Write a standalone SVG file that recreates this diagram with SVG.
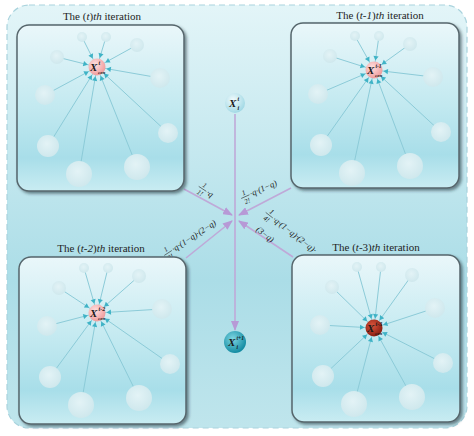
<svg xmlns="http://www.w3.org/2000/svg" width="474" height="436" viewBox="0 0 474 436">
<defs>
<style>
.ttl{font-family:"Liberation Serif",serif;font-size:11px;fill:#1e1e1e;text-anchor:middle}
.it{font-style:italic}
.ln{stroke:#8ccbd8;stroke-width:1;marker-end:url(#ah)}
.sat{fill:url(#satG)}
.box{fill:url(#boxG);stroke:#56666c;stroke-width:1.5;filter:url(#sh)}
.xl{font-family:"Liberation Serif",serif;font-weight:bold;font-style:italic;fill:#1a1a1a}
.fr{font-family:"Liberation Serif",serif;font-size:7px;font-style:italic;fill:#222;text-anchor:middle}
.lb{font-family:"Liberation Serif",serif;font-size:8.6px;font-style:italic;fill:#222}
.bar{stroke:#333;stroke-width:0.6}
.arr{stroke:#bfa9d8;stroke-width:1.6;fill:none;marker-end:url(#am)}
</style>
<linearGradient id="bgG" x1="0" y1="0" x2="0" y2="1">
<stop offset="0" stop-color="#e3f5f8"/><stop offset="0.65" stop-color="#abdde7"/><stop offset="1" stop-color="#bfe5ec"/>
</linearGradient>
<linearGradient id="boxG" x1="0" y1="0" x2="0" y2="1">
<stop offset="0" stop-color="#eaf7fa"/><stop offset="0.5" stop-color="#c2e9f0"/><stop offset="0.8" stop-color="#a8dee9"/><stop offset="1" stop-color="#c9ecf2"/>
</linearGradient>
<radialGradient id="satG" cx="0.45" cy="0.4" r="0.6">
<stop offset="0" stop-color="#e3f3f6"/><stop offset="1" stop-color="#cfe8ed"/>
</radialGradient>
<radialGradient id="pinkG" cx="0.4" cy="0.35" r="0.65">
<stop offset="0" stop-color="#ffe0e0"/><stop offset="1" stop-color="#ef9c9c"/>
</radialGradient>
<radialGradient id="redG" cx="0.4" cy="0.35" r="0.65">
<stop offset="0" stop-color="#d8543c"/><stop offset="1" stop-color="#8a1e12"/>
</radialGradient>
<radialGradient id="topG" cx="0.4" cy="0.35" r="0.65">
<stop offset="0" stop-color="#f2fbfd"/><stop offset="1" stop-color="#a2d9e5"/>
</radialGradient>
<radialGradient id="botG" cx="0.4" cy="0.35" r="0.65">
<stop offset="0" stop-color="#7fd6e2"/><stop offset="1" stop-color="#138ba2"/>
</radialGradient>
<filter id="sh" x="-10%" y="-10%" width="125%" height="125%">
<feGaussianBlur in="SourceAlpha" stdDeviation="1.8"/><feOffset dx="1.5" dy="2" result="b"/>
<feFlood flood-color="#1e2e36" flood-opacity="0.55"/><feComposite in2="b" operator="in"/>
<feMerge><feMergeNode/><feMergeNode in="SourceGraphic"/></feMerge>
</filter>
<marker id="ah" viewBox="-15 -3 15 6" refX="0" refY="0" markerWidth="15" markerHeight="6" markerUnits="userSpaceOnUse" orient="auto">
<path d="M-14,-2.6 L-9.5,0 L-14,2.6 z" fill="#3fb3c6"/>
</marker>
<marker id="am" viewBox="0 0 10 8" refX="9" refY="4" markerWidth="10" markerHeight="8" markerUnits="userSpaceOnUse" orient="auto">
<path d="M0,0 L10,4 L0,8 z" fill="#b799d6"/>
</marker>
</defs>
<rect width="474" height="436" fill="#ffffff"/>
<rect x="7" y="5" width="460" height="423" rx="22" fill="url(#bgG)" stroke="#a9d3dd" stroke-width="1.2" stroke-dasharray="6 4"/>

<g id="connectors">
<line class="arr" x1="235" y1="114" x2="235" y2="330"/>
<line class="arr" x1="184" y1="189" x2="232" y2="215"/>
<line class="arr" x1="291" y1="188" x2="239" y2="215"/>
<line class="arr" x1="186" y1="258" x2="232" y2="221"/>
<line class="arr" x1="293" y1="257" x2="239" y2="221"/>
<g transform="translate(199,186) rotate(33)">
<text class="fr" x="4.5" y="-1.5">1</text><line class="bar" x1="0" y1="0.5" x2="9" y2="0.5"/><text class="fr" x="4.5" y="7.5">1!</text>
<text class="lb" x="10" y="3">·q</text>
</g>
<g transform="translate(241,198) rotate(-24)">
<text class="fr" x="4.5" y="-1.5">1</text><line class="bar" x1="0" y1="0.5" x2="9" y2="0.5"/><text class="fr" x="4.5" y="7.5">2!</text>
<text class="lb" x="10" y="3">·q·(1−q)</text>
</g>
<g transform="translate(164,255) rotate(-33)">
<text class="fr" x="4.5" y="-1.5">1</text><line class="bar" x1="0" y1="0.5" x2="9" y2="0.5"/><text class="fr" x="4.5" y="7.5">3!</text>
<text class="lb" x="10" y="3">·q·(1−q)·(2−q)</text>
</g>
<g transform="translate(266,212) rotate(38)">
<text class="fr" x="4.5" y="-1.5">1</text><line class="bar" x1="0" y1="0.5" x2="9" y2="0.5"/><text class="fr" x="4.5" y="7.5">4!</text>
<text class="lb" x="10" y="3">·q·(1−q)·(2−q)·</text>
<text class="lb" x="3" y="21">(3−q)</text>
</g>
</g>

<g id="node-xi-t">
<circle cx="235" cy="103" r="10" fill="url(#topG)"/>
<text class="xl" x="229" y="107" font-size="11">X</text>
<text class="xl" x="237.5" y="101" font-size="6" font-weight="normal">t</text>
<text class="xl" x="237.5" y="110" font-size="6" font-weight="normal">i</text>
</g>
<g id="node-xi-t1">
<circle cx="235" cy="342" r="11" fill="url(#botG)"/>
<text class="xl" x="228" y="346" font-size="11" fill="#0e3c48">X</text>
<text class="xl" x="236.5" y="340" font-size="5.5" font-weight="normal">t+1</text>
<text class="xl" x="236.5" y="349" font-size="5.5" font-weight="normal">i</text>
</g>

<g id="box-t">
<text class="ttl" x="102" y="20">The (<tspan class="it">t</tspan>)<tspan class="it">th</tspan> iteration</text>
<rect class="box" x="17" y="25" width="167" height="166" rx="12"/>
<line class="ln" x1="82" y1="37" x2="97" y2="67"/><line class="ln" x1="106" y1="37" x2="97" y2="67"/>
<line class="ln" x1="137" y1="45" x2="97" y2="67"/><line class="ln" x1="57" y1="57" x2="97" y2="67"/>
<line class="ln" x1="160" y1="78" x2="97" y2="67"/><line class="ln" x1="45" y1="95" x2="97" y2="67"/>
<line class="ln" x1="168" y1="133" x2="97" y2="67"/><line class="ln" x1="48" y1="146" x2="97" y2="67"/>
<line class="ln" x1="79" y1="174" x2="97" y2="67"/><line class="ln" x1="137" y1="167" x2="97" y2="67"/>
<circle class="sat" cx="82" cy="37" r="5"/><circle class="sat" cx="106" cy="37" r="5"/>
<circle class="sat" cx="137" cy="45" r="7"/><circle class="sat" cx="57" cy="57" r="7"/>
<circle class="sat" cx="160" cy="78" r="10"/><circle class="sat" cx="45" cy="95" r="10"/>
<circle class="sat" cx="168" cy="133" r="10"/><circle class="sat" cx="48" cy="146" r="11"/>
<circle class="sat" cx="79" cy="174" r="13"/><circle class="sat" cx="137" cy="167" r="13"/>
<circle cx="97" cy="67" r="8.5" fill="url(#pinkG)"/>
<text class="xl" x="90" y="71" font-size="11">X</text>
<text class="xl" x="98.5" y="65" font-size="6" font-weight="normal">t</text>
<text class="xl" x="98" y="74" font-size="5" font-weight="normal">cen</text>
</g>

<g id="box-t1">
<text class="ttl" x="380" y="19">The (<tspan class="it">t-1</tspan>)<tspan class="it">th</tspan> iteration</text>
<rect class="box" x="291" y="23" width="168" height="165" rx="12"/>
<line class="ln" x1="355" y1="36" x2="374" y2="70"/><line class="ln" x1="379" y1="36" x2="374" y2="70"/>
<line class="ln" x1="410" y1="44" x2="374" y2="70"/><line class="ln" x1="330" y1="56" x2="374" y2="70"/>
<line class="ln" x1="433" y1="77" x2="374" y2="70"/><line class="ln" x1="318" y1="94" x2="374" y2="70"/>
<line class="ln" x1="441" y1="132" x2="374" y2="70"/><line class="ln" x1="321" y1="145" x2="374" y2="70"/>
<line class="ln" x1="352" y1="173" x2="374" y2="70"/><line class="ln" x1="410" y1="166" x2="374" y2="70"/>
<circle class="sat" cx="355" cy="36" r="5"/><circle class="sat" cx="379" cy="36" r="5"/>
<circle class="sat" cx="410" cy="44" r="7"/><circle class="sat" cx="330" cy="56" r="7"/>
<circle class="sat" cx="433" cy="77" r="10"/><circle class="sat" cx="318" cy="94" r="10"/>
<circle class="sat" cx="441" cy="132" r="10"/><circle class="sat" cx="321" cy="145" r="11"/>
<circle class="sat" cx="352" cy="173" r="13"/><circle class="sat" cx="410" cy="166" r="13"/>
<circle cx="374" cy="70" r="8.5" fill="url(#pinkG)"/>
<text class="xl" x="367" y="74" font-size="11">X</text>
<text class="xl" x="375.5" y="68" font-size="5.5" font-weight="normal">t-1</text>
<text class="xl" x="375" y="77" font-size="5" font-weight="normal">cen</text>
</g>

<g id="box-t2">
<text class="ttl" x="101" y="252">The (<tspan class="it">t-2</tspan>)<tspan class="it">th</tspan> iteration</text>
<rect class="box" x="19" y="257" width="167" height="167" rx="12"/>
<line class="ln" x1="84" y1="268" x2="97" y2="313"/><line class="ln" x1="108" y1="268" x2="97" y2="313"/>
<line class="ln" x1="139" y1="276" x2="97" y2="313"/><line class="ln" x1="59" y1="288" x2="97" y2="313"/>
<line class="ln" x1="162" y1="309" x2="97" y2="313"/><line class="ln" x1="47" y1="326" x2="97" y2="313"/>
<line class="ln" x1="170" y1="364" x2="97" y2="313"/><line class="ln" x1="50" y1="377" x2="97" y2="313"/>
<line class="ln" x1="81" y1="405" x2="97" y2="313"/><line class="ln" x1="139" y1="398" x2="97" y2="313"/>
<circle class="sat" cx="84" cy="268" r="5"/><circle class="sat" cx="108" cy="268" r="5"/>
<circle class="sat" cx="139" cy="276" r="7"/><circle class="sat" cx="59" cy="288" r="7"/>
<circle class="sat" cx="162" cy="309" r="10"/><circle class="sat" cx="47" cy="326" r="10"/>
<circle class="sat" cx="170" cy="364" r="10"/><circle class="sat" cx="50" cy="377" r="11"/>
<circle class="sat" cx="81" cy="405" r="13"/><circle class="sat" cx="139" cy="398" r="13"/>
<circle cx="97" cy="313" r="8.5" fill="url(#pinkG)"/>
<text class="xl" x="90" y="317" font-size="11">X</text>
<text class="xl" x="98.5" y="311" font-size="6" font-weight="normal">t-2</text>
<text class="xl" x="98" y="320" font-size="5" font-weight="normal">cen</text>
</g>

<g id="box-t3">
<text class="ttl" x="376" y="251">The (<tspan class="it">t</tspan>-3)<tspan class="it">th</tspan> iteration</text>
<rect class="box" x="292" y="255" width="168" height="167" rx="12"/>
<line class="ln" x1="357" y1="267" x2="374" y2="328"/><line class="ln" x1="381" y1="267" x2="374" y2="328"/>
<line class="ln" x1="412" y1="275" x2="374" y2="328"/><line class="ln" x1="332" y1="287" x2="374" y2="328"/>
<line class="ln" x1="435" y1="308" x2="374" y2="328"/><line class="ln" x1="320" y1="325" x2="374" y2="328"/>
<line class="ln" x1="443" y1="363" x2="374" y2="328"/><line class="ln" x1="323" y1="376" x2="374" y2="328"/>
<line class="ln" x1="354" y1="404" x2="374" y2="328"/><line class="ln" x1="412" y1="397" x2="374" y2="328"/>
<circle class="sat" cx="357" cy="267" r="5"/><circle class="sat" cx="381" cy="267" r="5"/>
<circle class="sat" cx="412" cy="275" r="7"/><circle class="sat" cx="332" cy="287" r="7"/>
<circle class="sat" cx="435" cy="308" r="10"/><circle class="sat" cx="320" cy="325" r="10"/>
<circle class="sat" cx="443" cy="363" r="10"/><circle class="sat" cx="323" cy="376" r="11"/>
<circle class="sat" cx="354" cy="404" r="13"/><circle class="sat" cx="412" cy="397" r="13"/>
<circle cx="374" cy="328" r="8.5" fill="url(#redG)"/>
<text class="xl" x="367" y="332" font-size="11">X</text>
<text class="xl" x="375.5" y="326" font-size="6" font-weight="normal">t-3</text>
<text class="xl" x="375" y="335" font-size="5" font-weight="normal">cen</text>
</g>
</svg>
